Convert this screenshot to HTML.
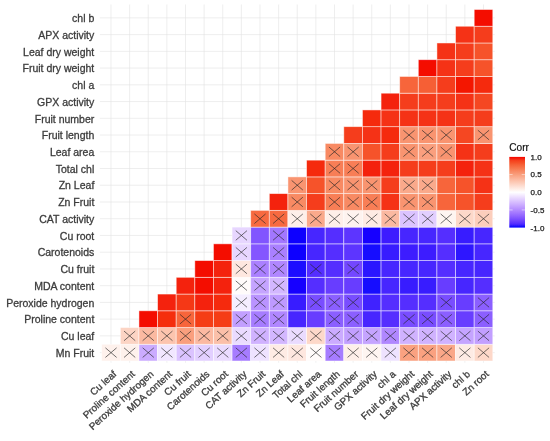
<!DOCTYPE html>
<html lang="en"><head><meta charset="utf-8"><title>Correlation heatmap</title>
<style>html,body{margin:0;padding:0;background:#fff}body{width:550px;height:441px;overflow:hidden}svg{display:block}text{font-family:"Liberation Sans",Arial,Helvetica,sans-serif}</style></head><body>
<svg width="550" height="441" viewBox="0 0 550 441">
<defs><filter id="soft" x="0" y="0" width="550" height="441" filterUnits="userSpaceOnUse"><feGaussianBlur stdDeviation="0.55"/></filter></defs>
<rect width="550" height="441" fill="#ffffff"/>
<g filter="url(#soft)">
<rect width="550" height="441" fill="#ffffff"/>
<g stroke="#e2e2e2" stroke-width="0.6" fill="none">
<line x1="111.01" y1="4.50" x2="111.01" y2="362.67"/>
<line x1="99.84" y1="17.87" x2="494.66" y2="17.87"/>
<line x1="129.64" y1="4.50" x2="129.64" y2="362.67"/>
<line x1="99.84" y1="34.61" x2="494.66" y2="34.61"/>
<line x1="148.26" y1="4.50" x2="148.26" y2="362.67"/>
<line x1="99.84" y1="51.35" x2="494.66" y2="51.35"/>
<line x1="166.88" y1="4.50" x2="166.88" y2="362.67"/>
<line x1="99.84" y1="68.08" x2="494.66" y2="68.08"/>
<line x1="185.51" y1="4.50" x2="185.51" y2="362.67"/>
<line x1="99.84" y1="84.82" x2="494.66" y2="84.82"/>
<line x1="204.13" y1="4.50" x2="204.13" y2="362.67"/>
<line x1="99.84" y1="101.56" x2="494.66" y2="101.56"/>
<line x1="222.75" y1="4.50" x2="222.75" y2="362.67"/>
<line x1="99.84" y1="118.30" x2="494.66" y2="118.30"/>
<line x1="241.38" y1="4.50" x2="241.38" y2="362.67"/>
<line x1="99.84" y1="135.04" x2="494.66" y2="135.04"/>
<line x1="260.00" y1="4.50" x2="260.00" y2="362.67"/>
<line x1="99.84" y1="151.77" x2="494.66" y2="151.77"/>
<line x1="278.63" y1="4.50" x2="278.63" y2="362.67"/>
<line x1="99.84" y1="168.51" x2="494.66" y2="168.51"/>
<line x1="297.25" y1="4.50" x2="297.25" y2="362.67"/>
<line x1="99.84" y1="185.25" x2="494.66" y2="185.25"/>
<line x1="315.87" y1="4.50" x2="315.87" y2="362.67"/>
<line x1="99.84" y1="201.99" x2="494.66" y2="201.99"/>
<line x1="334.50" y1="4.50" x2="334.50" y2="362.67"/>
<line x1="99.84" y1="218.73" x2="494.66" y2="218.73"/>
<line x1="353.12" y1="4.50" x2="353.12" y2="362.67"/>
<line x1="99.84" y1="235.46" x2="494.66" y2="235.46"/>
<line x1="371.75" y1="4.50" x2="371.75" y2="362.67"/>
<line x1="99.84" y1="252.20" x2="494.66" y2="252.20"/>
<line x1="390.37" y1="4.50" x2="390.37" y2="362.67"/>
<line x1="99.84" y1="268.94" x2="494.66" y2="268.94"/>
<line x1="408.99" y1="4.50" x2="408.99" y2="362.67"/>
<line x1="99.84" y1="285.68" x2="494.66" y2="285.68"/>
<line x1="427.62" y1="4.50" x2="427.62" y2="362.67"/>
<line x1="99.84" y1="302.42" x2="494.66" y2="302.42"/>
<line x1="446.24" y1="4.50" x2="446.24" y2="362.67"/>
<line x1="99.84" y1="319.15" x2="494.66" y2="319.15"/>
<line x1="464.86" y1="4.50" x2="464.86" y2="362.67"/>
<line x1="99.84" y1="335.89" x2="494.66" y2="335.89"/>
<line x1="483.49" y1="4.50" x2="483.49" y2="362.67"/>
<line x1="99.84" y1="352.63" x2="494.66" y2="352.63"/>
</g>
<g stroke="#ffffff" stroke-opacity="0.6" stroke-width="0.8">
<rect x="101.70" y="344.26" width="18.62" height="16.74" fill="#fef1ec"/>
<rect x="120.32" y="344.26" width="18.62" height="16.74" fill="#fef1ec"/>
<rect x="138.95" y="344.26" width="18.62" height="16.74" fill="#cbabff"/>
<rect x="157.57" y="344.26" width="18.62" height="16.74" fill="#f1e7ff"/>
<rect x="176.20" y="344.26" width="18.62" height="16.74" fill="#dbc3ff"/>
<rect x="194.82" y="344.26" width="18.62" height="16.74" fill="#e2cfff"/>
<rect x="213.44" y="344.26" width="18.62" height="16.74" fill="#eadbff"/>
<rect x="232.07" y="344.26" width="18.62" height="16.74" fill="#a67cff"/>
<rect x="250.69" y="344.26" width="18.62" height="16.74" fill="#eee2ff"/>
<rect x="269.31" y="344.26" width="18.62" height="16.74" fill="#feebe4"/>
<rect x="287.94" y="344.26" width="18.62" height="16.74" fill="#fee7df"/>
<rect x="306.56" y="344.26" width="18.62" height="16.74" fill="#fffbfa"/>
<rect x="325.19" y="344.26" width="18.62" height="16.74" fill="#a67cff"/>
<rect x="343.81" y="344.26" width="18.62" height="16.74" fill="#feefe9"/>
<rect x="362.43" y="344.26" width="18.62" height="16.74" fill="#fef5f1"/>
<rect x="381.06" y="344.26" width="18.62" height="16.74" fill="#eee2ff"/>
<rect x="399.68" y="344.26" width="18.62" height="16.74" fill="#faa180"/>
<rect x="418.30" y="344.26" width="18.62" height="16.74" fill="#faa180"/>
<rect x="436.93" y="344.26" width="18.62" height="16.74" fill="#faa788"/>
<rect x="455.55" y="344.26" width="18.62" height="16.74" fill="#feebe4"/>
<rect x="474.18" y="344.26" width="18.62" height="16.74" fill="#fdd8c9"/>
<rect x="120.32" y="327.52" width="18.62" height="16.74" fill="#fcd4c4"/>
<rect x="138.95" y="327.52" width="18.62" height="16.74" fill="#fbb9a1"/>
<rect x="157.57" y="327.52" width="18.62" height="16.74" fill="#fcc4ae"/>
<rect x="176.20" y="327.52" width="18.62" height="16.74" fill="#fa9f7e"/>
<rect x="194.82" y="327.52" width="18.62" height="16.74" fill="#fbb9a1"/>
<rect x="213.44" y="327.52" width="18.62" height="16.74" fill="#fbc0a9"/>
<rect x="232.07" y="327.52" width="18.62" height="16.74" fill="#eadbff"/>
<rect x="250.69" y="327.52" width="18.62" height="16.74" fill="#d0b2ff"/>
<rect x="269.31" y="327.52" width="18.62" height="16.74" fill="#d3b7ff"/>
<rect x="287.94" y="327.52" width="18.62" height="16.74" fill="#eadbff"/>
<rect x="306.56" y="327.52" width="18.62" height="16.74" fill="#fdd8c9"/>
<rect x="325.19" y="327.52" width="18.62" height="16.74" fill="#cbabff"/>
<rect x="343.81" y="327.52" width="18.62" height="16.74" fill="#c29fff"/>
<rect x="362.43" y="327.52" width="18.62" height="16.74" fill="#c5a4ff"/>
<rect x="381.06" y="327.52" width="18.62" height="16.74" fill="#b087ff"/>
<rect x="399.68" y="327.52" width="18.62" height="16.74" fill="#d0b2ff"/>
<rect x="418.30" y="327.52" width="18.62" height="16.74" fill="#d0b2ff"/>
<rect x="436.93" y="327.52" width="18.62" height="16.74" fill="#d0b2ff"/>
<rect x="455.55" y="327.52" width="18.62" height="16.74" fill="#c5a4ff"/>
<rect x="474.18" y="327.52" width="18.62" height="16.74" fill="#c29fff"/>
<rect x="138.95" y="310.79" width="18.62" height="16.74" fill="#f40e03"/>
<rect x="157.57" y="310.79" width="18.62" height="16.74" fill="#f52d10"/>
<rect x="176.20" y="310.79" width="18.62" height="16.74" fill="#f7653a"/>
<rect x="194.82" y="310.79" width="18.62" height="16.74" fill="#f53c19"/>
<rect x="213.44" y="310.79" width="18.62" height="16.74" fill="#f53c19"/>
<rect x="232.07" y="310.79" width="18.62" height="16.74" fill="#c29fff"/>
<rect x="250.69" y="310.79" width="18.62" height="16.74" fill="#a67cff"/>
<rect x="269.31" y="310.79" width="18.62" height="16.74" fill="#b087ff"/>
<rect x="287.94" y="310.79" width="18.62" height="16.74" fill="#4725ff"/>
<rect x="306.56" y="310.79" width="18.62" height="16.74" fill="#683eff"/>
<rect x="325.19" y="310.79" width="18.62" height="16.74" fill="#8b5eff"/>
<rect x="343.81" y="310.79" width="18.62" height="16.74" fill="#8b5eff"/>
<rect x="362.43" y="310.79" width="18.62" height="16.74" fill="#4725ff"/>
<rect x="381.06" y="310.79" width="18.62" height="16.74" fill="#552fff"/>
<rect x="399.68" y="310.79" width="18.62" height="16.74" fill="#794dff"/>
<rect x="418.30" y="310.79" width="18.62" height="16.74" fill="#794dff"/>
<rect x="436.93" y="310.79" width="18.62" height="16.74" fill="#8b5eff"/>
<rect x="455.55" y="310.79" width="18.62" height="16.74" fill="#683eff"/>
<rect x="474.18" y="310.79" width="18.62" height="16.74" fill="#8b5eff"/>
<rect x="157.57" y="294.05" width="18.62" height="16.74" fill="#f4240c"/>
<rect x="176.20" y="294.05" width="18.62" height="16.74" fill="#f53917"/>
<rect x="194.82" y="294.05" width="18.62" height="16.74" fill="#f4240c"/>
<rect x="213.44" y="294.05" width="18.62" height="16.74" fill="#f52a0f"/>
<rect x="232.07" y="294.05" width="18.62" height="16.74" fill="#f5eeff"/>
<rect x="250.69" y="294.05" width="18.62" height="16.74" fill="#b993ff"/>
<rect x="269.31" y="294.05" width="18.62" height="16.74" fill="#be9aff"/>
<rect x="287.94" y="294.05" width="18.62" height="16.74" fill="#381bff"/>
<rect x="306.56" y="294.05" width="18.62" height="16.74" fill="#794dff"/>
<rect x="325.19" y="294.05" width="18.62" height="16.74" fill="#8b5eff"/>
<rect x="343.81" y="294.05" width="18.62" height="16.74" fill="#794dff"/>
<rect x="362.43" y="294.05" width="18.62" height="16.74" fill="#4121ff"/>
<rect x="381.06" y="294.05" width="18.62" height="16.74" fill="#552fff"/>
<rect x="399.68" y="294.05" width="18.62" height="16.74" fill="#552fff"/>
<rect x="418.30" y="294.05" width="18.62" height="16.74" fill="#552fff"/>
<rect x="436.93" y="294.05" width="18.62" height="16.74" fill="#794dff"/>
<rect x="455.55" y="294.05" width="18.62" height="16.74" fill="#683eff"/>
<rect x="474.18" y="294.05" width="18.62" height="16.74" fill="#8b5eff"/>
<rect x="176.20" y="277.31" width="18.62" height="16.74" fill="#f4240c"/>
<rect x="194.82" y="277.31" width="18.62" height="16.74" fill="#f40e03"/>
<rect x="213.44" y="277.31" width="18.62" height="16.74" fill="#f4240c"/>
<rect x="232.07" y="277.31" width="18.62" height="16.74" fill="#fffbfa"/>
<rect x="250.69" y="277.31" width="18.62" height="16.74" fill="#c5a4ff"/>
<rect x="269.31" y="277.31" width="18.62" height="16.74" fill="#d3b7ff"/>
<rect x="287.94" y="277.31" width="18.62" height="16.74" fill="#1406ff"/>
<rect x="306.56" y="277.31" width="18.62" height="16.74" fill="#552fff"/>
<rect x="325.19" y="277.31" width="18.62" height="16.74" fill="#683eff"/>
<rect x="343.81" y="277.31" width="18.62" height="16.74" fill="#683eff"/>
<rect x="362.43" y="277.31" width="18.62" height="16.74" fill="#1808ff"/>
<rect x="381.06" y="277.31" width="18.62" height="16.74" fill="#4725ff"/>
<rect x="399.68" y="277.31" width="18.62" height="16.74" fill="#381bff"/>
<rect x="418.30" y="277.31" width="18.62" height="16.74" fill="#381bff"/>
<rect x="436.93" y="277.31" width="18.62" height="16.74" fill="#683eff"/>
<rect x="455.55" y="277.31" width="18.62" height="16.74" fill="#4725ff"/>
<rect x="474.18" y="277.31" width="18.62" height="16.74" fill="#552fff"/>
<rect x="194.82" y="260.57" width="18.62" height="16.74" fill="#f40e03"/>
<rect x="213.44" y="260.57" width="18.62" height="16.74" fill="#f4240c"/>
<rect x="232.07" y="260.57" width="18.62" height="16.74" fill="#fee7df"/>
<rect x="250.69" y="260.57" width="18.62" height="16.74" fill="#aa80ff"/>
<rect x="269.31" y="260.57" width="18.62" height="16.74" fill="#b087ff"/>
<rect x="287.94" y="260.57" width="18.62" height="16.74" fill="#1c0aff"/>
<rect x="306.56" y="260.57" width="18.62" height="16.74" fill="#552fff"/>
<rect x="325.19" y="260.57" width="18.62" height="16.74" fill="#552fff"/>
<rect x="343.81" y="260.57" width="18.62" height="16.74" fill="#7347ff"/>
<rect x="362.43" y="260.57" width="18.62" height="16.74" fill="#2912ff"/>
<rect x="381.06" y="260.57" width="18.62" height="16.74" fill="#4725ff"/>
<rect x="399.68" y="260.57" width="18.62" height="16.74" fill="#4725ff"/>
<rect x="418.30" y="260.57" width="18.62" height="16.74" fill="#4725ff"/>
<rect x="436.93" y="260.57" width="18.62" height="16.74" fill="#552fff"/>
<rect x="455.55" y="260.57" width="18.62" height="16.74" fill="#4725ff"/>
<rect x="474.18" y="260.57" width="18.62" height="16.74" fill="#4725ff"/>
<rect x="213.44" y="243.83" width="18.62" height="16.74" fill="#f40e03"/>
<rect x="232.07" y="243.83" width="18.62" height="16.74" fill="#e7d6ff"/>
<rect x="250.69" y="243.83" width="18.62" height="16.74" fill="#8457ff"/>
<rect x="269.31" y="243.83" width="18.62" height="16.74" fill="#aa80ff"/>
<rect x="287.94" y="243.83" width="18.62" height="16.74" fill="#0f04ff"/>
<rect x="306.56" y="243.83" width="18.62" height="16.74" fill="#4725ff"/>
<rect x="325.19" y="243.83" width="18.62" height="16.74" fill="#552fff"/>
<rect x="343.81" y="243.83" width="18.62" height="16.74" fill="#5d35ff"/>
<rect x="362.43" y="243.83" width="18.62" height="16.74" fill="#1808ff"/>
<rect x="381.06" y="243.83" width="18.62" height="16.74" fill="#381bff"/>
<rect x="399.68" y="243.83" width="18.62" height="16.74" fill="#3e1fff"/>
<rect x="418.30" y="243.83" width="18.62" height="16.74" fill="#3e1fff"/>
<rect x="436.93" y="243.83" width="18.62" height="16.74" fill="#552fff"/>
<rect x="455.55" y="243.83" width="18.62" height="16.74" fill="#2f15ff"/>
<rect x="474.18" y="243.83" width="18.62" height="16.74" fill="#4725ff"/>
<rect x="232.07" y="227.10" width="18.62" height="16.74" fill="#e7d6ff"/>
<rect x="250.69" y="227.10" width="18.62" height="16.74" fill="#8154ff"/>
<rect x="269.31" y="227.10" width="18.62" height="16.74" fill="#a277ff"/>
<rect x="287.94" y="227.10" width="18.62" height="16.74" fill="#0f04ff"/>
<rect x="306.56" y="227.10" width="18.62" height="16.74" fill="#4725ff"/>
<rect x="325.19" y="227.10" width="18.62" height="16.74" fill="#552fff"/>
<rect x="343.81" y="227.10" width="18.62" height="16.74" fill="#5d35ff"/>
<rect x="362.43" y="227.10" width="18.62" height="16.74" fill="#1406ff"/>
<rect x="381.06" y="227.10" width="18.62" height="16.74" fill="#3e1fff"/>
<rect x="399.68" y="227.10" width="18.62" height="16.74" fill="#4725ff"/>
<rect x="418.30" y="227.10" width="18.62" height="16.74" fill="#4725ff"/>
<rect x="436.93" y="227.10" width="18.62" height="16.74" fill="#552fff"/>
<rect x="455.55" y="227.10" width="18.62" height="16.74" fill="#381bff"/>
<rect x="474.18" y="227.10" width="18.62" height="16.74" fill="#4725ff"/>
<rect x="250.69" y="210.36" width="18.62" height="16.74" fill="#f76b41"/>
<rect x="269.31" y="210.36" width="18.62" height="16.74" fill="#f76b41"/>
<rect x="287.94" y="210.36" width="18.62" height="16.74" fill="#feefe9"/>
<rect x="306.56" y="210.36" width="18.62" height="16.74" fill="#faa98b"/>
<rect x="325.19" y="210.36" width="18.62" height="16.74" fill="#feefe9"/>
<rect x="343.81" y="210.36" width="18.62" height="16.74" fill="#fef3ef"/>
<rect x="362.43" y="210.36" width="18.62" height="16.74" fill="#feebe4"/>
<rect x="381.06" y="210.36" width="18.62" height="16.74" fill="#fbb9a1"/>
<rect x="399.68" y="210.36" width="18.62" height="16.74" fill="#dbc3ff"/>
<rect x="418.30" y="210.36" width="18.62" height="16.74" fill="#e2cfff"/>
<rect x="436.93" y="210.36" width="18.62" height="16.74" fill="#fef5f1"/>
<rect x="455.55" y="210.36" width="18.62" height="16.74" fill="#fdd8c9"/>
<rect x="474.18" y="210.36" width="18.62" height="16.74" fill="#fccebc"/>
<rect x="269.31" y="193.62" width="18.62" height="16.74" fill="#f4240c"/>
<rect x="287.94" y="193.62" width="18.62" height="16.74" fill="#f88a63"/>
<rect x="306.56" y="193.62" width="18.62" height="16.74" fill="#f53e1a"/>
<rect x="325.19" y="193.62" width="18.62" height="16.74" fill="#f87e56"/>
<rect x="343.81" y="193.62" width="18.62" height="16.74" fill="#f88a63"/>
<rect x="362.43" y="193.62" width="18.62" height="16.74" fill="#f87e56"/>
<rect x="381.06" y="193.62" width="18.62" height="16.74" fill="#f53213"/>
<rect x="399.68" y="193.62" width="18.62" height="16.74" fill="#f99470"/>
<rect x="418.30" y="193.62" width="18.62" height="16.74" fill="#f99470"/>
<rect x="436.93" y="193.62" width="18.62" height="16.74" fill="#f7653b"/>
<rect x="455.55" y="193.62" width="18.62" height="16.74" fill="#f6532a"/>
<rect x="474.18" y="193.62" width="18.62" height="16.74" fill="#f53e1a"/>
<rect x="287.94" y="176.88" width="18.62" height="16.74" fill="#f99470"/>
<rect x="306.56" y="176.88" width="18.62" height="16.74" fill="#f6532a"/>
<rect x="325.19" y="176.88" width="18.62" height="16.74" fill="#f88a63"/>
<rect x="343.81" y="176.88" width="18.62" height="16.74" fill="#f99470"/>
<rect x="362.43" y="176.88" width="18.62" height="16.74" fill="#f99470"/>
<rect x="381.06" y="176.88" width="18.62" height="16.74" fill="#f53e1a"/>
<rect x="399.68" y="176.88" width="18.62" height="16.74" fill="#faa98b"/>
<rect x="418.30" y="176.88" width="18.62" height="16.74" fill="#faa98b"/>
<rect x="436.93" y="176.88" width="18.62" height="16.74" fill="#f7653b"/>
<rect x="455.55" y="176.88" width="18.62" height="16.74" fill="#f6532a"/>
<rect x="474.18" y="176.88" width="18.62" height="16.74" fill="#f53213"/>
<rect x="306.56" y="160.14" width="18.62" height="16.74" fill="#f52a0f"/>
<rect x="325.19" y="160.14" width="18.62" height="16.74" fill="#f87e56"/>
<rect x="343.81" y="160.14" width="18.62" height="16.74" fill="#f87e56"/>
<rect x="362.43" y="160.14" width="18.62" height="16.74" fill="#f4240c"/>
<rect x="381.06" y="160.14" width="18.62" height="16.74" fill="#f4240c"/>
<rect x="399.68" y="160.14" width="18.62" height="16.74" fill="#f53e1a"/>
<rect x="418.30" y="160.14" width="18.62" height="16.74" fill="#f53e1a"/>
<rect x="436.93" y="160.14" width="18.62" height="16.74" fill="#f53e1a"/>
<rect x="455.55" y="160.14" width="18.62" height="16.74" fill="#f4240c"/>
<rect x="474.18" y="160.14" width="18.62" height="16.74" fill="#f53213"/>
<rect x="325.19" y="143.40" width="18.62" height="16.74" fill="#f88a63"/>
<rect x="343.81" y="143.40" width="18.62" height="16.74" fill="#f99470"/>
<rect x="362.43" y="143.40" width="18.62" height="16.74" fill="#f6532a"/>
<rect x="381.06" y="143.40" width="18.62" height="16.74" fill="#f53e1a"/>
<rect x="399.68" y="143.40" width="18.62" height="16.74" fill="#f99470"/>
<rect x="418.30" y="143.40" width="18.62" height="16.74" fill="#fa9f7e"/>
<rect x="436.93" y="143.40" width="18.62" height="16.74" fill="#f99470"/>
<rect x="455.55" y="143.40" width="18.62" height="16.74" fill="#f53213"/>
<rect x="474.18" y="143.40" width="18.62" height="16.74" fill="#f53e1a"/>
<rect x="343.81" y="126.67" width="18.62" height="16.74" fill="#f53e1a"/>
<rect x="362.43" y="126.67" width="18.62" height="16.74" fill="#f53213"/>
<rect x="381.06" y="126.67" width="18.62" height="16.74" fill="#f52a0f"/>
<rect x="399.68" y="126.67" width="18.62" height="16.74" fill="#f99470"/>
<rect x="418.30" y="126.67" width="18.62" height="16.74" fill="#f99470"/>
<rect x="436.93" y="126.67" width="18.62" height="16.74" fill="#f99470"/>
<rect x="455.55" y="126.67" width="18.62" height="16.74" fill="#f54721"/>
<rect x="474.18" y="126.67" width="18.62" height="16.74" fill="#f99470"/>
<rect x="362.43" y="109.93" width="18.62" height="16.74" fill="#f52a0f"/>
<rect x="381.06" y="109.93" width="18.62" height="16.74" fill="#f53213"/>
<rect x="399.68" y="109.93" width="18.62" height="16.74" fill="#f53213"/>
<rect x="418.30" y="109.93" width="18.62" height="16.74" fill="#f53213"/>
<rect x="436.93" y="109.93" width="18.62" height="16.74" fill="#f53213"/>
<rect x="455.55" y="109.93" width="18.62" height="16.74" fill="#f53e1a"/>
<rect x="474.18" y="109.93" width="18.62" height="16.74" fill="#f53e1a"/>
<rect x="381.06" y="93.19" width="18.62" height="16.74" fill="#f4240c"/>
<rect x="399.68" y="93.19" width="18.62" height="16.74" fill="#f53e1a"/>
<rect x="418.30" y="93.19" width="18.62" height="16.74" fill="#f53e1a"/>
<rect x="436.93" y="93.19" width="18.62" height="16.74" fill="#f53e1a"/>
<rect x="455.55" y="93.19" width="18.62" height="16.74" fill="#f53213"/>
<rect x="474.18" y="93.19" width="18.62" height="16.74" fill="#f54721"/>
<rect x="399.68" y="76.45" width="18.62" height="16.74" fill="#f7653b"/>
<rect x="418.30" y="76.45" width="18.62" height="16.74" fill="#f65e34"/>
<rect x="436.93" y="76.45" width="18.62" height="16.74" fill="#f53e1a"/>
<rect x="455.55" y="76.45" width="18.62" height="16.74" fill="#f41906"/>
<rect x="474.18" y="76.45" width="18.62" height="16.74" fill="#f52a0f"/>
<rect x="418.30" y="59.71" width="18.62" height="16.74" fill="#f40902"/>
<rect x="436.93" y="59.71" width="18.62" height="16.74" fill="#f53213"/>
<rect x="455.55" y="59.71" width="18.62" height="16.74" fill="#f53e1a"/>
<rect x="474.18" y="59.71" width="18.62" height="16.74" fill="#f6532a"/>
<rect x="436.93" y="42.98" width="18.62" height="16.74" fill="#f53213"/>
<rect x="455.55" y="42.98" width="18.62" height="16.74" fill="#f53e1a"/>
<rect x="474.18" y="42.98" width="18.62" height="16.74" fill="#f6532a"/>
<rect x="455.55" y="26.24" width="18.62" height="16.74" fill="#f53213"/>
<rect x="474.18" y="26.24" width="18.62" height="16.74" fill="#f53e1a"/>
<rect x="474.18" y="9.50" width="18.62" height="16.74" fill="#f40e03"/>
</g>
<g stroke="#222222" stroke-opacity="0.85" stroke-width="0.75" fill="none">
<path d="M105.41 347.83L116.61 357.43M105.41 357.43L116.61 347.83"/>
<path d="M124.04 347.83L135.24 357.43M124.04 357.43L135.24 347.83"/>
<path d="M142.66 347.83L153.86 357.43M142.66 357.43L153.86 347.83"/>
<path d="M161.28 347.83L172.48 357.43M161.28 357.43L172.48 347.83"/>
<path d="M179.91 347.83L191.11 357.43M179.91 357.43L191.11 347.83"/>
<path d="M198.53 347.83L209.73 357.43M198.53 357.43L209.73 347.83"/>
<path d="M217.15 347.83L228.35 357.43M217.15 357.43L228.35 347.83"/>
<path d="M235.78 347.83L246.98 357.43M235.78 357.43L246.98 347.83"/>
<path d="M254.40 347.83L265.60 357.43M254.40 357.43L265.60 347.83"/>
<path d="M273.03 347.83L284.23 357.43M273.03 357.43L284.23 347.83"/>
<path d="M291.65 347.83L302.85 357.43M291.65 357.43L302.85 347.83"/>
<path d="M310.27 347.83L321.47 357.43M310.27 357.43L321.47 347.83"/>
<path d="M328.90 347.83L340.10 357.43M328.90 357.43L340.10 347.83"/>
<path d="M347.52 347.83L358.72 357.43M347.52 357.43L358.72 347.83"/>
<path d="M366.15 347.83L377.35 357.43M366.15 357.43L377.35 347.83"/>
<path d="M384.77 347.83L395.97 357.43M384.77 357.43L395.97 347.83"/>
<path d="M403.39 347.83L414.59 357.43M403.39 357.43L414.59 347.83"/>
<path d="M422.02 347.83L433.22 357.43M422.02 357.43L433.22 347.83"/>
<path d="M440.64 347.83L451.84 357.43M440.64 357.43L451.84 347.83"/>
<path d="M459.26 347.83L470.46 357.43M459.26 357.43L470.46 347.83"/>
<path d="M477.89 347.83L489.09 357.43M477.89 357.43L489.09 347.83"/>
<path d="M124.04 331.09L135.24 340.69M124.04 340.69L135.24 331.09"/>
<path d="M142.66 331.09L153.86 340.69M142.66 340.69L153.86 331.09"/>
<path d="M161.28 331.09L172.48 340.69M161.28 340.69L172.48 331.09"/>
<path d="M179.91 331.09L191.11 340.69M179.91 340.69L191.11 331.09"/>
<path d="M198.53 331.09L209.73 340.69M198.53 340.69L209.73 331.09"/>
<path d="M217.15 331.09L228.35 340.69M217.15 340.69L228.35 331.09"/>
<path d="M235.78 331.09L246.98 340.69M235.78 340.69L246.98 331.09"/>
<path d="M254.40 331.09L265.60 340.69M254.40 340.69L265.60 331.09"/>
<path d="M273.03 331.09L284.23 340.69M273.03 340.69L284.23 331.09"/>
<path d="M291.65 331.09L302.85 340.69M291.65 340.69L302.85 331.09"/>
<path d="M310.27 331.09L321.47 340.69M310.27 340.69L321.47 331.09"/>
<path d="M328.90 331.09L340.10 340.69M328.90 340.69L340.10 331.09"/>
<path d="M347.52 331.09L358.72 340.69M347.52 340.69L358.72 331.09"/>
<path d="M366.15 331.09L377.35 340.69M366.15 340.69L377.35 331.09"/>
<path d="M384.77 331.09L395.97 340.69M384.77 340.69L395.97 331.09"/>
<path d="M403.39 331.09L414.59 340.69M403.39 340.69L414.59 331.09"/>
<path d="M422.02 331.09L433.22 340.69M422.02 340.69L433.22 331.09"/>
<path d="M440.64 331.09L451.84 340.69M440.64 340.69L451.84 331.09"/>
<path d="M459.26 331.09L470.46 340.69M459.26 340.69L470.46 331.09"/>
<path d="M477.89 331.09L489.09 340.69M477.89 340.69L489.09 331.09"/>
<path d="M179.91 314.35L191.11 323.95M179.91 323.95L191.11 314.35"/>
<path d="M235.78 314.35L246.98 323.95M235.78 323.95L246.98 314.35"/>
<path d="M254.40 314.35L265.60 323.95M254.40 323.95L265.60 314.35"/>
<path d="M273.03 314.35L284.23 323.95M273.03 323.95L284.23 314.35"/>
<path d="M328.90 314.35L340.10 323.95M328.90 323.95L340.10 314.35"/>
<path d="M347.52 314.35L358.72 323.95M347.52 323.95L358.72 314.35"/>
<path d="M403.39 314.35L414.59 323.95M403.39 323.95L414.59 314.35"/>
<path d="M422.02 314.35L433.22 323.95M422.02 323.95L433.22 314.35"/>
<path d="M440.64 314.35L451.84 323.95M440.64 323.95L451.84 314.35"/>
<path d="M477.89 314.35L489.09 323.95M477.89 323.95L489.09 314.35"/>
<path d="M235.78 297.62L246.98 307.22M235.78 307.22L246.98 297.62"/>
<path d="M254.40 297.62L265.60 307.22M254.40 307.22L265.60 297.62"/>
<path d="M273.03 297.62L284.23 307.22M273.03 307.22L284.23 297.62"/>
<path d="M310.27 297.62L321.47 307.22M310.27 307.22L321.47 297.62"/>
<path d="M328.90 297.62L340.10 307.22M328.90 307.22L340.10 297.62"/>
<path d="M347.52 297.62L358.72 307.22M347.52 307.22L358.72 297.62"/>
<path d="M440.64 297.62L451.84 307.22M440.64 307.22L451.84 297.62"/>
<path d="M477.89 297.62L489.09 307.22M477.89 307.22L489.09 297.62"/>
<path d="M235.78 280.88L246.98 290.48M235.78 290.48L246.98 280.88"/>
<path d="M254.40 280.88L265.60 290.48M254.40 290.48L265.60 280.88"/>
<path d="M273.03 280.88L284.23 290.48M273.03 290.48L284.23 280.88"/>
<path d="M235.78 264.14L246.98 273.74M235.78 273.74L246.98 264.14"/>
<path d="M254.40 264.14L265.60 273.74M254.40 273.74L265.60 264.14"/>
<path d="M273.03 264.14L284.23 273.74M273.03 273.74L284.23 264.14"/>
<path d="M310.27 264.14L321.47 273.74M310.27 273.74L321.47 264.14"/>
<path d="M347.52 264.14L358.72 273.74M347.52 273.74L358.72 264.14"/>
<path d="M235.78 247.40L246.98 257.00M235.78 257.00L246.98 247.40"/>
<path d="M273.03 247.40L284.23 257.00M273.03 257.00L284.23 247.40"/>
<path d="M235.78 230.66L246.98 240.26M235.78 240.26L246.98 230.66"/>
<path d="M273.03 230.66L284.23 240.26M273.03 240.26L284.23 230.66"/>
<path d="M254.40 213.93L265.60 223.53M254.40 223.53L265.60 213.93"/>
<path d="M273.03 213.93L284.23 223.53M273.03 223.53L284.23 213.93"/>
<path d="M291.65 213.93L302.85 223.53M291.65 223.53L302.85 213.93"/>
<path d="M310.27 213.93L321.47 223.53M310.27 223.53L321.47 213.93"/>
<path d="M328.90 213.93L340.10 223.53M328.90 223.53L340.10 213.93"/>
<path d="M347.52 213.93L358.72 223.53M347.52 223.53L358.72 213.93"/>
<path d="M366.15 213.93L377.35 223.53M366.15 223.53L377.35 213.93"/>
<path d="M384.77 213.93L395.97 223.53M384.77 223.53L395.97 213.93"/>
<path d="M403.39 213.93L414.59 223.53M403.39 223.53L414.59 213.93"/>
<path d="M422.02 213.93L433.22 223.53M422.02 223.53L433.22 213.93"/>
<path d="M440.64 213.93L451.84 223.53M440.64 223.53L451.84 213.93"/>
<path d="M459.26 213.93L470.46 223.53M459.26 223.53L470.46 213.93"/>
<path d="M477.89 213.93L489.09 223.53M477.89 223.53L489.09 213.93"/>
<path d="M291.65 197.19L302.85 206.79M291.65 206.79L302.85 197.19"/>
<path d="M328.90 197.19L340.10 206.79M328.90 206.79L340.10 197.19"/>
<path d="M347.52 197.19L358.72 206.79M347.52 206.79L358.72 197.19"/>
<path d="M366.15 197.19L377.35 206.79M366.15 206.79L377.35 197.19"/>
<path d="M403.39 197.19L414.59 206.79M403.39 206.79L414.59 197.19"/>
<path d="M422.02 197.19L433.22 206.79M422.02 206.79L433.22 197.19"/>
<path d="M291.65 180.45L302.85 190.05M291.65 190.05L302.85 180.45"/>
<path d="M328.90 180.45L340.10 190.05M328.90 190.05L340.10 180.45"/>
<path d="M347.52 180.45L358.72 190.05M347.52 190.05L358.72 180.45"/>
<path d="M366.15 180.45L377.35 190.05M366.15 190.05L377.35 180.45"/>
<path d="M403.39 180.45L414.59 190.05M403.39 190.05L414.59 180.45"/>
<path d="M422.02 180.45L433.22 190.05M422.02 190.05L433.22 180.45"/>
<path d="M328.90 163.71L340.10 173.31M328.90 173.31L340.10 163.71"/>
<path d="M347.52 163.71L358.72 173.31M347.52 173.31L358.72 163.71"/>
<path d="M328.90 146.97L340.10 156.57M328.90 156.57L340.10 146.97"/>
<path d="M347.52 146.97L358.72 156.57M347.52 156.57L358.72 146.97"/>
<path d="M403.39 146.97L414.59 156.57M403.39 156.57L414.59 146.97"/>
<path d="M422.02 146.97L433.22 156.57M422.02 156.57L433.22 146.97"/>
<path d="M440.64 146.97L451.84 156.57M440.64 156.57L451.84 146.97"/>
<path d="M403.39 130.24L414.59 139.84M403.39 139.84L414.59 130.24"/>
<path d="M422.02 130.24L433.22 139.84M422.02 139.84L433.22 130.24"/>
<path d="M440.64 130.24L451.84 139.84M440.64 139.84L451.84 130.24"/>
<path d="M477.89 130.24L489.09 139.84M477.89 139.84L489.09 130.24"/>
</g>
<g font-size="10.5" fill="#3c3c3c" stroke="#3c3c3c" stroke-width="0.3" text-anchor="end">
<text x="94.3" y="356.83">Mn Fruit</text>
<text x="94.3" y="340.09">Cu leaf</text>
<text x="94.3" y="323.35">Proline content</text>
<text x="94.3" y="306.62">Peroxide hydrogen</text>
<text x="94.3" y="289.88">MDA content</text>
<text x="94.3" y="273.14">Cu fruit</text>
<text x="94.3" y="256.40">Carotenoids</text>
<text x="94.3" y="239.66">Cu root</text>
<text x="94.3" y="222.93">CAT activity</text>
<text x="94.3" y="206.19">Zn Fruit</text>
<text x="94.3" y="189.45">Zn Leaf</text>
<text x="94.3" y="172.71">Total chl</text>
<text x="94.3" y="155.97">Leaf area</text>
<text x="94.3" y="139.24">Fruit length</text>
<text x="94.3" y="122.50">Fruit number</text>
<text x="94.3" y="105.76">GPX activity</text>
<text x="94.3" y="89.02">chl a</text>
<text x="94.3" y="72.28">Fruit dry weight</text>
<text x="94.3" y="55.55">Leaf dry weight</text>
<text x="94.3" y="38.81">APX activity</text>
<text x="94.3" y="22.07">chl b</text>
</g>
<g font-size="9.9" fill="#3c3c3c" stroke="#3c3c3c" stroke-width="0.3" text-anchor="end">
<text transform="translate(117.01 375.00) rotate(-42)">Cu leaf</text>
<text transform="translate(135.64 375.00) rotate(-42)">Proline content</text>
<text transform="translate(154.26 375.00) rotate(-42)">Peroxide hydrogen</text>
<text transform="translate(172.88 375.00) rotate(-42)">MDA content</text>
<text transform="translate(191.51 375.00) rotate(-42)">Cu fruit</text>
<text transform="translate(210.13 375.00) rotate(-42)">Carotenoids</text>
<text transform="translate(228.75 375.00) rotate(-42)">Cu root</text>
<text transform="translate(247.38 375.00) rotate(-42)">CAT activity</text>
<text transform="translate(266.00 375.00) rotate(-42)">Zn Fruit</text>
<text transform="translate(284.63 375.00) rotate(-42)">Zn Leaf</text>
<text transform="translate(303.25 375.00) rotate(-42)">Total chl</text>
<text transform="translate(321.87 375.00) rotate(-42)">Leaf area</text>
<text transform="translate(340.50 375.00) rotate(-42)">Fruit length</text>
<text transform="translate(359.12 375.00) rotate(-42)">Fruit number</text>
<text transform="translate(377.75 375.00) rotate(-42)">GPX activity</text>
<text transform="translate(396.37 375.00) rotate(-42)">chl a</text>
<text transform="translate(414.99 375.00) rotate(-42)">Fruit dry weight</text>
<text transform="translate(433.62 375.00) rotate(-42)">Leaf dry weight</text>
<text transform="translate(452.24 375.00) rotate(-42)">APX activity</text>
<text transform="translate(470.86 375.00) rotate(-42)">chl b</text>
<text transform="translate(489.49 375.00) rotate(-42)">Zn root</text>
</g>
<defs><linearGradient id="lg" x1="0" y1="0" x2="0" y2="1">
<stop offset="0.000" stop-color="#f40000"/>
<stop offset="0.050" stop-color="#f53e1a"/>
<stop offset="0.100" stop-color="#f65b31"/>
<stop offset="0.150" stop-color="#f77349"/>
<stop offset="0.200" stop-color="#f88963"/>
<stop offset="0.250" stop-color="#f99e7c"/>
<stop offset="0.300" stop-color="#fbb297"/>
<stop offset="0.350" stop-color="#fcc6b1"/>
<stop offset="0.400" stop-color="#fdd9cb"/>
<stop offset="0.450" stop-color="#feece5"/>
<stop offset="0.500" stop-color="#ffffff"/>
<stop offset="0.550" stop-color="#f2e7ff"/>
<stop offset="0.600" stop-color="#e3d0ff"/>
<stop offset="0.650" stop-color="#d4b9ff"/>
<stop offset="0.700" stop-color="#c4a2ff"/>
<stop offset="0.750" stop-color="#b38bff"/>
<stop offset="0.800" stop-color="#a074ff"/>
<stop offset="0.850" stop-color="#8a5dff"/>
<stop offset="0.900" stop-color="#7145ff"/>
<stop offset="0.950" stop-color="#502bff"/>
<stop offset="1.000" stop-color="#0000ff"/>
</linearGradient></defs>
<rect x="509.3" y="156.9" width="15.7" height="70.7" fill="url(#lg)"/>
<g stroke="#ffffff" stroke-width="0.5">
<line x1="509.3" y1="174.58" x2="512.6" y2="174.58"/><line x1="521.7" y1="174.58" x2="525.0" y2="174.58"/>
<line x1="509.3" y1="192.25" x2="512.6" y2="192.25"/><line x1="521.7" y1="192.25" x2="525.0" y2="192.25"/>
<line x1="509.3" y1="209.93" x2="512.6" y2="209.93"/><line x1="521.7" y1="209.93" x2="525.0" y2="209.93"/>
</g>
<text x="509.3" y="150.9" font-size="10.1" fill="#111111" stroke="#111111" stroke-width="0.2">Corr</text>
<g font-size="8" fill="#1a1a1a" stroke="#1a1a1a" stroke-width="0.25">
<text x="530.6" y="159.80">1.0</text>
<text x="530.6" y="177.48">0.5</text>
<text x="530.6" y="195.15">0.0</text>
<text x="530.6" y="212.83">-0.5</text>
<text x="530.6" y="230.50">-1.0</text>
</g>
</g>
</svg></body></html>
